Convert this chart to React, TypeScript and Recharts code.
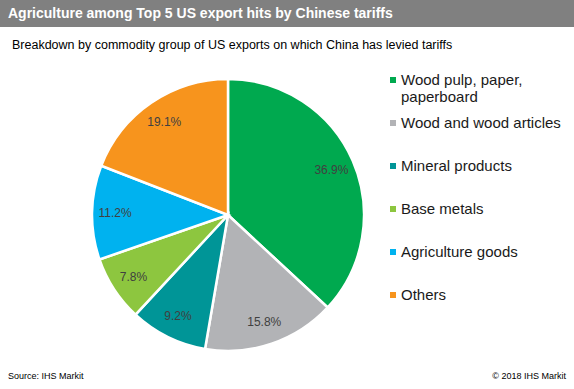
import { PieChart, Pie, Cell, Legend } from 'recharts';

const categories = [
  'Wood pulp, paper, paperboard',
  'Wood and wood articles',
  'Mineral products',
  'Base metals',
  'Agriculture goods',
  'Others',
];
const shares = [36.9, 15.8, 9.2, 7.8, 11.2, 19.1];
const colors = ['#00a94f', '#b2b3b6', '#009597', '#8dc63f', '#00b2ef', '#f7941d'];

const data = categories.map((name, i) => ({ name, value: shares[i] }));

const FONT = '"Liberation Sans", Arial, sans-serif';
const RAD = Math.PI / 180;

const renderLabel = (props: any) => {
  const { cx, cy, midAngle, outerRadius, value } = props;
  const r = outerRadius * 0.83;
  const x = cx + r * Math.cos(-midAngle * RAD);
  const y = cy + r * Math.sin(-midAngle * RAD);
  return (
    <text x={x} y={y} fill="#404040" fontSize={12} fontFamily={FONT} textAnchor="middle" dominantBaseline="central">
      {value.toFixed(1)}%
    </text>
  );
};

const renderLegend = () => (
  <div style={{ fontFamily: FONT, fontSize: 15, color: '#1a1a1a' }}>
    {data.map((d, i) => (
      <div key={d.name} style={{ display: 'flex', alignItems: 'flex-start', height: 43 }}>
        <span style={{ width: 6, height: 6, background: colors[i], marginTop: 6, marginRight: 5, flexShrink: 0 }} />
        <span style={{ lineHeight: '17px', width: i === 0 ? 130 : 175 }}>{d.name}</span>
      </div>
    ))}
  </div>
);

export default function App() {
  return (
    <div style={{ position: 'absolute', left: 0, top: 0, width: 574, height: 389, background: '#fff', fontFamily: FONT }}>
      <div
        style={{
          position: 'absolute', left: 0, top: 0, width: 574, height: 27, background: '#808080',
          color: '#fff', fontWeight: 'bold', fontSize: 14, lineHeight: '27px', paddingLeft: 8, boxSizing: 'border-box',
        }}
      >
        Agriculture among Top 5 US export hits by Chinese tariffs
      </div>
      <div style={{ position: 'absolute', left: 12, top: 38, fontSize: 12.5, color: '#000' }}>
        Breakdown by commodity group of US exports on which China has levied tariffs
      </div>
      <div style={{ position: 'absolute', left: 0, top: 0 }}>
        <PieChart width={574} height={389} margin={{ top: 0, right: 0, bottom: 0, left: 0 }}>
          <Pie
            data={data}
            dataKey="value"
            nameKey="name"
            cx={228}
            cy={215}
            outerRadius={136}
            startAngle={90}
            endAngle={-270}
            stroke="#fff"
            strokeWidth={2.5}
            label={renderLabel}
            labelLine={false}
            isAnimationActive={false}
          >
            {data.map((d, i) => (
              <Cell key={d.name} fill={colors[i]} />
            ))}
          </Pie>
          <Legend
            layout="vertical"
            content={renderLegend}
            wrapperStyle={{ position: 'absolute', left: 390, top: 71, width: 184 }}
          />
        </PieChart>
      </div>
      <div style={{ position: 'absolute', left: 8, top: 371, fontSize: 9, color: '#000' }}>Source: IHS Markit</div>
      <div style={{ position: 'absolute', right: 8, top: 371, fontSize: 9, color: '#000' }}>© 2018 IHS Markit</div>
    </div>
  );
}
